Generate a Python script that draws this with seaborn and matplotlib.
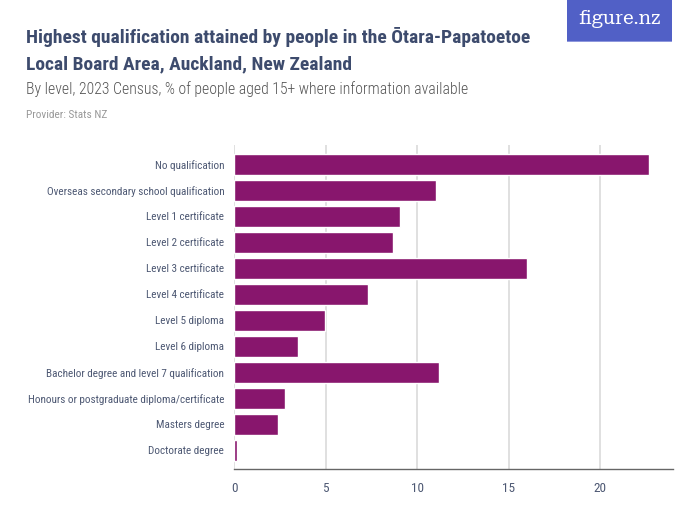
import pandas as pd
import seaborn as sns
import matplotlib.pyplot as plt
from matplotlib.patches import Rectangle

levels = ['No qualification', 'Overseas secondary school qualification',
          'Level 1 certificate', 'Level 2 certificate', 'Level 3 certificate',
          'Level 4 certificate', 'Level 5 diploma', 'Level 6 diploma',
          'Bachelor degree and level 7 qualification',
          'Honours or postgraduate diploma/certificate', 'Masters degree',
          'Doctorate degree']
percent = [22.67, 11.06, 9.08, 8.66, 15.98, 7.33, 4.99, 3.48, 11.21, 2.78, 2.38, 0.16]
ticks = [0, 5, 10, 15, 20]

df = pd.DataFrame({'level': levels, 'percent': percent})

sns.set_style('white')
plt.rcParams['font.family'] = ['Roboto Condensed', 'DejaVu Sans']

fig = plt.figure(figsize=(7, 5.25), dpi=100)
ax = fig.add_axes([0.3343, 0.1061, 0.9619 - 0.3343, 0.7238 - 0.1061])

sns.barplot(data=df, y='level', x='percent', orient='h', color='#88166d',
            saturation=1, width=0.8, ax=ax)

ax.set_xlim(0, 24)
ax.set_ylim(11.73, -0.74)
ax.set_xticks(ticks)
ax.set_xticklabels([str(t) for t in ticks])
ax.set_xlabel('')
ax.set_ylabel('')
ax.grid(axis='x', color='#dddddd', linewidth=1.3)
ax.set_axisbelow(True)
for s in ['top', 'right', 'left']:
    ax.spines[s].set_visible(False)
ax.spines['bottom'].set_color('#666666')
ax.spines['bottom'].set_linewidth(1)
ax.tick_params(axis='x', colors='#666666', length=4, width=1, labelsize=9.5,
               labelcolor='#4d5873', pad=5.5)
ax.tick_params(axis='y', length=0, labelsize=8, labelcolor='#4d5873', pad=7)

# header
fig.text(26 / 700, 1 - 43.3 / 525, 'Highest qualification attained by people in the Ōtara-Papatoetoe',
         fontsize=14, fontweight='bold', color='#3d4b6d', va='baseline')
fig.text(26 / 700, 1 - 69 / 525, 'Local Board Area, Auckland, New Zealand',
         fontsize=14, fontweight='bold', color='#3d4b6d', va='baseline')
fig.text(26 / 700, 1 - 94 / 525,
         'By level, 2023 Census, % of people aged 15+ where information available',
         fontsize=11.3, fontweight='light', color='#555555', va='baseline')
fig.text(26 / 700, 1 - 117.5 / 525, 'Provider: Stats NZ', fontsize=8.2,
         color='#999999', va='baseline')

# logo
fig.add_artist(Rectangle((567 / 700, 1 - 42 / 525), 105 / 700, 42 / 525,
                         transform=fig.transFigure, facecolor='#5160c6',
                         edgecolor='none'))
fig.add_artist(Rectangle((567 / 700, 1 - 42 / 525), 105 / 700, 1 / 525,
                         transform=fig.transFigure, facecolor='#8e97dc',
                         edgecolor='none'))
fig.text(619 / 700, 1 - 19 / 525, 'figure.nz', fontsize=14, color='white',
         fontweight='semibold', family=['Roboto Serif', 'DejaVu Serif'],
         ha='center', va='center')

fig.savefig('out.png', dpi=100)
